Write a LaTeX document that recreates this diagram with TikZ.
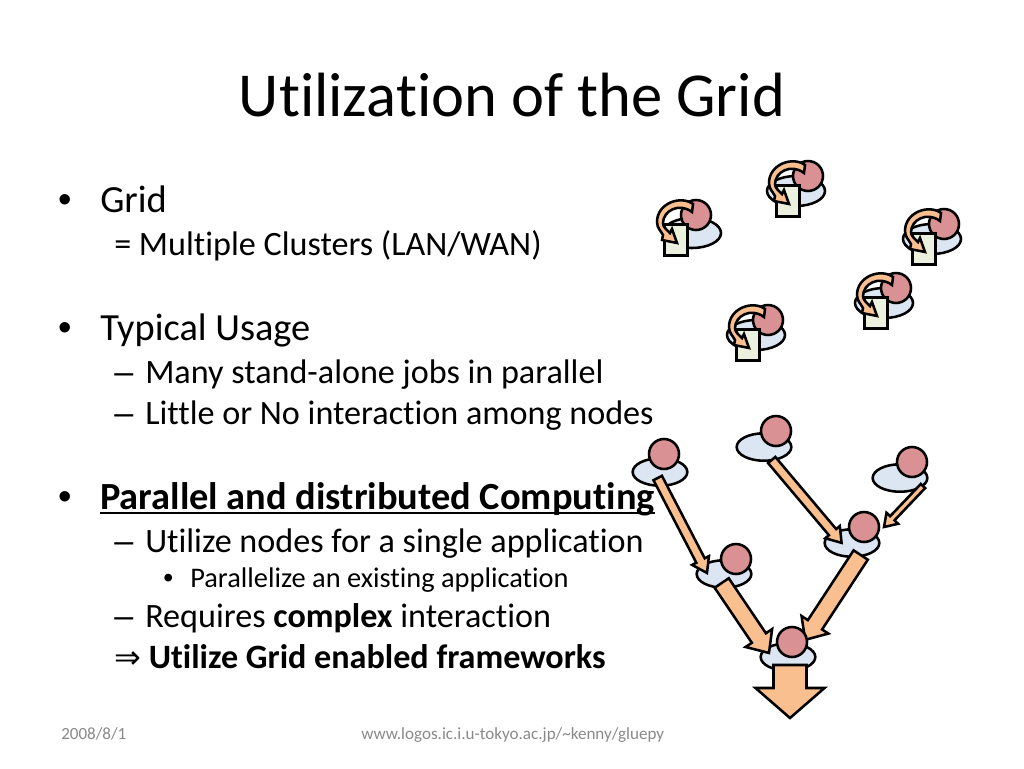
\documentclass[tikz,border=0pt]{standalone}
\usepackage{fontspec}
\setmainfont{Carlito}[RawFeature={-liga;-clig;-dlig}]
\newfontfamily\bulletfont{Liberation Sans}
\usetikzlibrary{calc,shapes.geometric}
\definecolor{nodered}{RGB}{217,145,148}
\definecolor{ellblue}{RGB}{220,230,242}
\definecolor{arrtan}{RGB}{250,191,143}
\definecolor{docgreen}{RGB}{235,241,222}
\definecolor{footgray}{RGB}{137,137,137}
\tikzset{
  ell/.style={draw,ellipse,fill=ellblue,line width=1.9pt,inner sep=0pt,minimum width=41pt,minimum height=20.6pt},
  body/.style={anchor=base west,inner sep=0pt,text=black},
  lvlone/.style={body,font=\fontsize{28.8}{32}\selectfont},
  lvltwo/.style={body,font=\fontsize{25.6}{28}\selectfont},
  lvlthree/.style={body,font=\fontsize{21.3}{24}\selectfont},
  foot/.style={anchor=base west,inner sep=0pt,text=footgray,font=\fontsize{12.8}{14}\selectfont},
  outl/.style={draw=black,line width=1.9pt,line join=miter},
  ball/.style={draw,circle,fill=nodered,line width=1.9pt,minimum size=22.5pt,inner sep=0pt}
}
% fat arrow: from, to, shaft width, head width, head length (all in px of the slide)
\newcommand{\fatarrow}[5]{
  \fill[arrtan,outl] let \p1=($(#2)-(#1)$),\n1={atan2(\y1,\x1)},\n2={veclen(\x1,\y1)} in
    [shift={(#1)},rotate=\n1] (0pt,{-#3*0.375pt}) -- ({\n2-#5*0.75pt},{-#3*0.375pt}) -- ({\n2-#5*0.75pt},{-#4*0.375pt})
    -- (\n2,0pt) -- ({\n2-#5*0.75pt},{#4*0.375pt}) -- ({\n2-#5*0.75pt},{#3*0.375pt}) -- (0pt,{#3*0.375pt}) -- cycle;
}
\begin{document}
\begin{tikzpicture}[x=0.75pt,y=-0.75pt]
  \useasboundingbox (0,0) rectangle (1024,768);
  \node[anchor=base,inner sep=0pt,font=\fontsize{46.9}{50}\selectfont] (title) at (512,116) {Utilization of the Grid};

  \node[lvlone] (b1) at (58,212) {\bulletfont •};
  \node[lvlone] (t1) at (100,212) {Grid};
  \node[lvltwo] (t2) at (114,255) {= Multiple Clusters (LAN/WAN)};
  \node[lvlone] (b2) at (58,340) {\bulletfont •};
  \node[lvlone] (t3) at (100,340) {Typical Usage};
  \node[lvltwo] (d1) at (114,383) {\bulletfont –};
  \node[lvltwo] (t4) at (145,383) {Many stand-alone jobs in parallel};
  \node[lvltwo] (d2) at (114,424) {\bulletfont –};
  \node[lvltwo] (t5) at (145,424) {Little or No interaction among nodes};
  \node[lvlone] (b3) at (58,509.5) {\bulletfont •};
  \node[lvlone,font=\fontsize{28.8}{32}\selectfont\bfseries] (t6) at (100,509.5) {Parallel and distributed Computing};
  \draw[line width=1.5pt] ($(t6.base west)+(0,3.5)$) -- ($(t6.base east)+(0,3.5)$);
  \node[lvltwo] (d3) at (114,552) {\bulletfont –};
  \node[lvltwo] (t7) at (145,552) {Utilize nodes for a single application};
  \node[lvlthree] (b4) at (163,587) {\bulletfont •};
  \node[lvlthree] (t8) at (190,587) {Parallelize an existing application};
  \node[lvltwo] (d4) at (114,627) {\bulletfont –};
  \node[lvltwo] (t9) at (145,627) {Requires \textbf{complex} interaction};
  \node[lvltwo] (t10) at (114,668) {{\fontspec{DejaVu Sans}\fontsize{24}{26}\selectfont ⇒} \textbf{Utilize Grid enabled frameworks}};

  \node[foot] (date) at (61,739) {2008/8/1};
  \node[foot] (url) at (361,739) {www.logos.ic.i.u-tokyo.ac.jp/\textasciitilde kenny/gluepy};

  % scattered clusters
  \foreach \cx/\cy/\nm/\ex/\ey in {696/215/one/-4/18,808/176/two/-12/15,944/224/three/-12/15,896/288/four/-12/15,768/320/five/-12/15}{
    \begin{scope}[shift={(\cx,\cy)}]
      \fill[ellblue,outl] (\ex,\ey) ellipse (29 and 15);
      \node[ball] (c\nm) at (0,0) {};
      \node[draw,rectangle,fill=docgreen,line width=1.9pt,minimum width=17pt,minimum height=23pt,inner sep=0pt] (d\nm) at (-20,25) {};
      \fill[arrtan,outl] (-3,-11) .. controls (-15,-20) and (-39,-12) .. (-39,7) .. controls (-39,13) and (-35,16) .. (-33,20)
        -- (-34,25) -- (-19,28) -- (-24,14) -- (-26,18) .. controls (-30,14) and (-33,12) .. (-33,8)
        .. controls (-33,-4) and (-17,-13) .. (-4,-3) -- cycle;
    \end{scope}
  }

  % job tree
  \node[ell] (e1) at (660,472) {};
  \node[ell] (e2) at (764,447) {};
  \node[ell] (e3) at (900,478) {};
  \node[ell] (e4) at (852,543) {};
  \node[ell] (e5) at (724,574) {};
  \node[ell] (e6) at (788,657) {};

  \coordinate (a1) at (657.7,478);
  \coordinate (a2) at (707,573);
  \fatarrow{a1}{a2}{9.5}{19}{14}
  \coordinate (a3) at (771.7,460);
  \coordinate (a4) at (841.7,543);
  \fatarrow{a3}{a4}{9.5}{19}{14}
  \coordinate (a5) at (923,486);
  \coordinate (a6) at (884,527);
  \fatarrow{a5}{a6}{6}{16}{12}
  \coordinate (a7) at (721.7,583);
  \coordinate (a8) at (769,653);
  \fatarrow{a7}{a8}{17}{32}{18}
  \coordinate (a9) at (860.7,555);
  \coordinate (a10) at (805,640);
  \fatarrow{a9}{a10}{17}{32}{18}
  \coordinate (a11) at (790,665);
  \coordinate (a12) at (790,718);
  \fatarrow{a11}{a12}{33}{69}{30}

  \foreach \cx/\cy/\nm in {664/454/a,776/431/b,912/462/c,864/527/d,736/559/e,792/642/f}{
    \node[ball] (n\nm) at (\cx,\cy) {};
  }
\end{tikzpicture}
\end{document}
